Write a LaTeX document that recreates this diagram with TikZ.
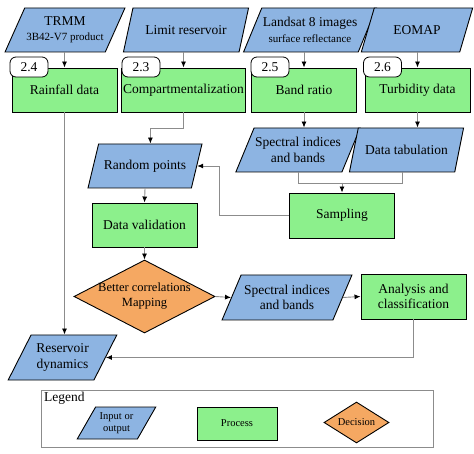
\documentclass[tikz,border=0pt]{standalone}
\usepackage{fontspec}
\setmainfont{Liberation Serif}
\usetikzlibrary{shapes.geometric,arrows.meta}

\definecolor{iofill}{HTML}{8DB4E2}
\definecolor{procfill}{HTML}{8CF08C}
\definecolor{decfill}{HTML}{F5A862}
\definecolor{linkgray}{HTML}{8C8C8C}

\newcommand{\bigtxt}{\fontsize{13.5}{15.5}\selectfont}
\newcommand{\subtxt}{\fontsize{11}{12.5}\selectfont}
\newcommand{\legtxt}{\fontsize{10.5}{12}\selectfont}

\tikzset{
  io/.style={trapezium, trapezium left angle=56, trapezium right angle=124,
    trapezium stretches=true, draw=black, fill=iofill, line width=0.9pt,
    minimum height=44pt, align=center, inner sep=1pt, font=\bigtxt},
  proc/.style={rectangle, draw=black, fill=procfill, line width=0.9pt,
    minimum height=44pt, minimum width=105pt, align=center, inner sep=1pt, font=\bigtxt},
  decide/.style={diamond, draw=black, fill=decfill, line width=0.9pt,
    aspect=1.9, inner sep=0pt, inner xsep=-5pt, align=center},
  tag/.style={rectangle, rounded corners=6pt, draw=black, fill=white, line width=0.8pt,
    minimum width=38pt, minimum height=20pt, inner sep=0pt, font=\bigtxt},
  link/.style={draw=linkgray, line width=0.9pt, -{Latex[color=black,length=6pt,width=5pt]}},
  line/.style={draw=linkgray, line width=0.9pt},
}

\begin{document}
\begin{tikzpicture}[x=1pt,y=-1pt]
        \useasboundingbox (0,0) rectangle (474,454);

        % inputs
        \node[io, minimum width=120pt] (trmm) at (65,30) {TRMM\\{\subtxt 3B42-V7 product}};
        \node[io, minimum width=126pt] (limit) at (186,30) {Limit reservoir};
        \node[io, minimum width=122pt] (landsat) at (310,30) {Landsat 8 images\\{\subtxt surface reflectance}};
        \node[io, minimum width=112pt] (eomap) at (417,30) {EOMAP};

        % first processes
        \node[proc] (rain) at (64.5,90) {Rainfall data};
        \node[proc, minimum width=124pt] (comp) at (183.5,90) {Compartmentalization};
        \node[proc] (band) at (304,90) {Band ratio};
        \node[proc] (turb) at (417.5,90) {Turbidity data};

        \node[tag] (t24) at (29,67) {2.4};
        \node[tag] (t23) at (141,67) {2.3};
        \node[tag] (t25) at (270,67) {2.5};
        \node[tag] (t26) at (382.5,67) {2.6};

        % middle part
        \node[io, minimum width=124pt] (spec) at (298,150) {Spectral indices\\and bands};
        \node[io, minimum width=115pt] (tab) at (406.5,150) {Data tabulation};
        \node[proc, minimum height=45pt] (samp) at (342,215.5) {Sampling};
        \node[io, minimum width=114pt] (rand) at (145,166) {Random points};
        \node[proc] (valid) at (144.5,225) {Data validation};

        % lower part
        \node[decide, minimum width=141pt, minimum height=73pt, font=\fontsize{12.5}{15}\selectfont]
            (corr) at (144.5,296.5) {Better correlations\\Mapping};
        \node[io, minimum width=130pt, minimum height=45pt] (spec2) at (287,297.5) {Spectral indices\\and bands};
        \node[proc, minimum height=45pt] (anal) at (413.5,296.5) {Analysis and\\classification};
        \node[io, minimum width=109pt, minimum height=45pt] (res) at (62.5,357.5) {Reservoir\\dynamics};

        % connectors
        \draw[link] (rain.north |- trmm.south) -- (rain.north);
        \draw[link] (comp.north |- limit.south) -- (comp.north);
        \draw[link] (band.north |- landsat.south) -- (band.north);
        \draw[link] (turb.north |- eomap.south) -- (turb.north);
        \draw[link] (band.south) -- (band.south |- spec.north);
        \draw[link] (turb.south) -- (turb.south |- tab.north);
        \draw[line] (spec.south) -- ++(0,11) -| (tab.bottom side);
        \draw[link] (samp.north) ++(0,-10) -- (samp.north);
        \draw[link] (comp.south) -- ++(0,16) -| (rand.top side);
        \draw[link] (samp.west) -- ++(-70,0) |- (rand.east);
        \draw[link] (rand.south) -- (valid.north);
        \draw[link] (valid.south) -- (corr.north);
        \draw[link] (corr.east) -- (spec2.west);
        \draw[link] (spec2.east) -- (anal.west);
        \draw[link] (anal.south) |- (res.east);
        \draw[link] (rain.south) -- (rain.south |- res.north);

        % legend
        \draw[linkgray, line width=0.9pt] (41,390) rectangle (433,447);
        \node[anchor=north west, inner sep=0pt, font=\bigtxt] (leg) at (44,392) {Legend};
        \node[io, minimum width=79pt, minimum height=32pt, font=\legtxt] (legio) at (116.5,423) {Input or\\output};
        \node[proc, minimum width=80pt, minimum height=33pt, font=\legtxt] (legproc) at (237,423.5) {Process};
        \node[decide, minimum width=65pt, minimum height=41pt, font=\legtxt] (legdec) at (356.5,422.5) {Decision};

\end{tikzpicture}
\end{document}
